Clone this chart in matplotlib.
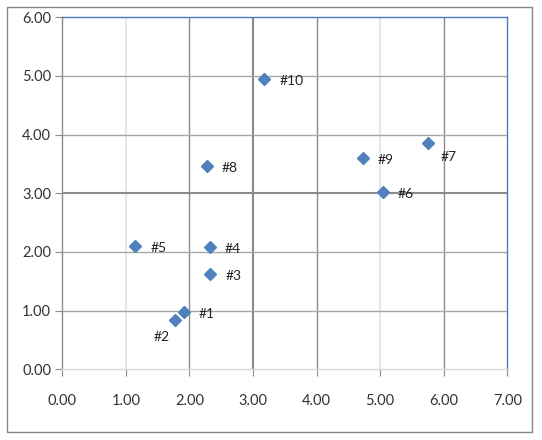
import numpy as np
import matplotlib.pyplot as plt
from matplotlib.patches import Rectangle

plt.rcParams['font.family'] = ['Lato', 'DejaVu Sans']

# point data
labels = ["#1", "#2", "#3", "#4", "#5", "#6", "#7", "#8", "#9", "#10"]
xs = [1.91, 1.77, 2.33, 2.32, 1.15, 5.04, 5.76, 2.27, 4.73, 3.18]
ys = [0.97, 0.84, 1.62, 2.09, 2.11, 3.02, 3.85, 3.47, 3.60, 4.95]
# label offsets in pixels (dx, dy)
offs = {"#2": (-21, -17), "#7": (12, -14)}

xticks = np.arange(0, 8, 1)
yticks = np.arange(0, 7, 1)

fig = plt.figure(figsize=(5.42, 4.40), dpi=100)
ax = fig.add_axes([62.3/542, 1-369.3/440, 445/542, 352/440])

# outer chart frame
fig.patches.append(Rectangle((7/542, 1-432/440), 525/542, 425/440,
                             transform=fig.transFigure, fill=False,
                             edgecolor='#868686', lw=1.0))

ax.set_xlim(0, 7)
ax.set_ylim(0, 6)
ax.set_xticks(xticks)
ax.set_yticks(yticks)
ax.set_xticklabels([f"{v:.2f}" for v in xticks])
ax.set_yticklabels([f"{v:.2f}" for v in yticks])

# gridlines (Excel-ish mix of light / mid / dark)
for v in xticks[1:-1]:
    if v in (1, 5):
        ax.axvline(v, color='#e3e3e3', lw=1.2, zorder=0)
    elif v == 3:
        ax.axvline(v, color='#8a8a8a', lw=1.5, zorder=0)
    else:
        ax.axvline(v, color='#8c8c8c', lw=1.0, zorder=0)
for v in yticks[1:-1]:
    if v == 3:
        ax.axhline(v, color='#8a8a8a', lw=1.5, zorder=0)
    else:
        ax.axhline(v, color='#a6a6a6', lw=1.0, zorder=0)

for s in ax.spines.values():
    s.set_linewidth(1.0)
ax.spines['top'].set_color('#4a7ebb')
ax.spines['right'].set_color('#4a7ebb')
ax.spines['left'].set_color('#8c8c8c')
ax.spines['bottom'].set_color('#d9d9d9')

ax.tick_params(axis='x', direction='out', length=5, color='#8c8c8c',
               labelsize=10.5, pad=13, labelcolor='#333333')
ax.tick_params(axis='y', direction='out', length=5, color='#8c8c8c',
               labelsize=10.5, pad=3, labelcolor='#333333')

ax.plot(xs, ys, 'D', color='#4f81bd', markersize=6.5, zorder=3, clip_on=False)

for lab, x, y in zip(labels, xs, ys):
    dx, dy = offs.get(lab, (15, -2))
    ax.annotate(lab, (x, y), xytext=(dx*0.72, dy*0.72), textcoords='offset points',
                fontsize=10, va='center', ha='left', color='#222222')

fig.savefig("out.png", dpi=100)
